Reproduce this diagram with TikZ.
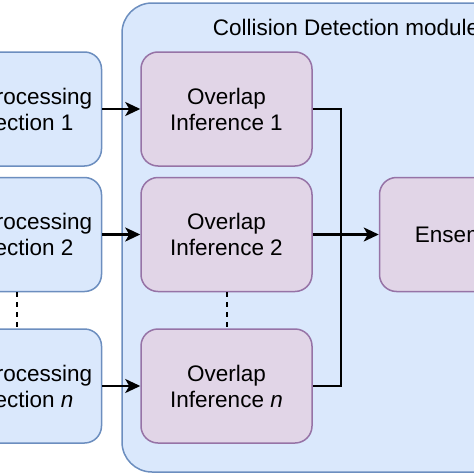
\documentclass[tikz,border=0pt]{standalone}
\usepackage{fontspec}
\setmainfont{Liberation Sans}
\usetikzlibrary{arrows.meta}
\usetikzlibrary{positioning}

\definecolor{blueFill}{HTML}{DAE8FC}
\definecolor{blueLine}{HTML}{6C8EBF}
\definecolor{purpleFill}{HTML}{E1D5E7}
\definecolor{purpleLine}{HTML}{9673A6}

\tikzset{
    procbox/.style={draw=blueLine, fill=blueFill, line width=1.5pt, rounded corners=17pt,
                    minimum width=170pt, minimum height=114pt, align=center},
    overlapbox/.style={draw=purpleLine, fill=purpleFill, line width=1.5pt, rounded corners=17pt,
                       minimum width=171pt, minimum height=114pt, align=center},
    link/.style={line width=2.2pt, black},
    linkarrow/.style={link, -{Stealth[length=15pt, width=14pt, inset=4pt]}},
    dots/.style={line width=2pt, dash pattern=on 5pt off 5pt},
}

\begin{document}
\begin{tikzpicture}[x=1pt, y=-1pt, font=\fontsize{22.5}{26}\selectfont, node distance=10pt]
    \useasboundingbox (0,0) rectangle (474,474);
    \clip (0,0) rectangle (474,474);
    \fill[white] (0,0) rectangle (474,474);

    % module container
    \draw[draw=blueLine, fill=blueFill, line width=1.5pt, rounded corners=30pt]
        (122,3) rectangle (570,472);
    \node[anchor=base] (title) at (346,35) {Collision Detection module};

    % overlap inference
    \node[overlapbox] (ovl1) at (226.5,109) {Overlap\\Inference 1};
    \node[overlapbox, below=10pt of ovl1] (ovl2) {Overlap\\Inference 2};
    \node[overlapbox, below=36pt of ovl2] (ovln) {Overlap\\Inference \textit{n}};

    % pre-processing
    \node[procbox, left=38pt of ovl1] (pre1) {Pre-processing\\Detection 1};
    \node[procbox, left=38pt of ovl2] (pre2) {Pre-processing\\Detection 2};
    \node[procbox, left=38pt of ovln] (pren) {Pre-processing\\Detection \textit{n}};

    % ensemble
    \node[overlapbox, right=66pt of ovl2] (ens) {Ensemble};

    \draw[linkarrow] (pre1) -- (ovl1);
    \draw[linkarrow] (pre2) -- (ovl2);
    \draw[linkarrow] (pren) -- (ovln);

    \draw[dots] (pre2) -- (pren);
    \draw[dots] (ovl2) -- (ovln);

    \coordinate (bus) at ([xshift=28pt]ovl2.east);
    \draw[link] (ovl1.east) -| (bus);
    \draw[link] (ovln.east) -| (bus);
    \draw[linkarrow] (ovl2) -- (ens);
\end{tikzpicture}
\end{document}
